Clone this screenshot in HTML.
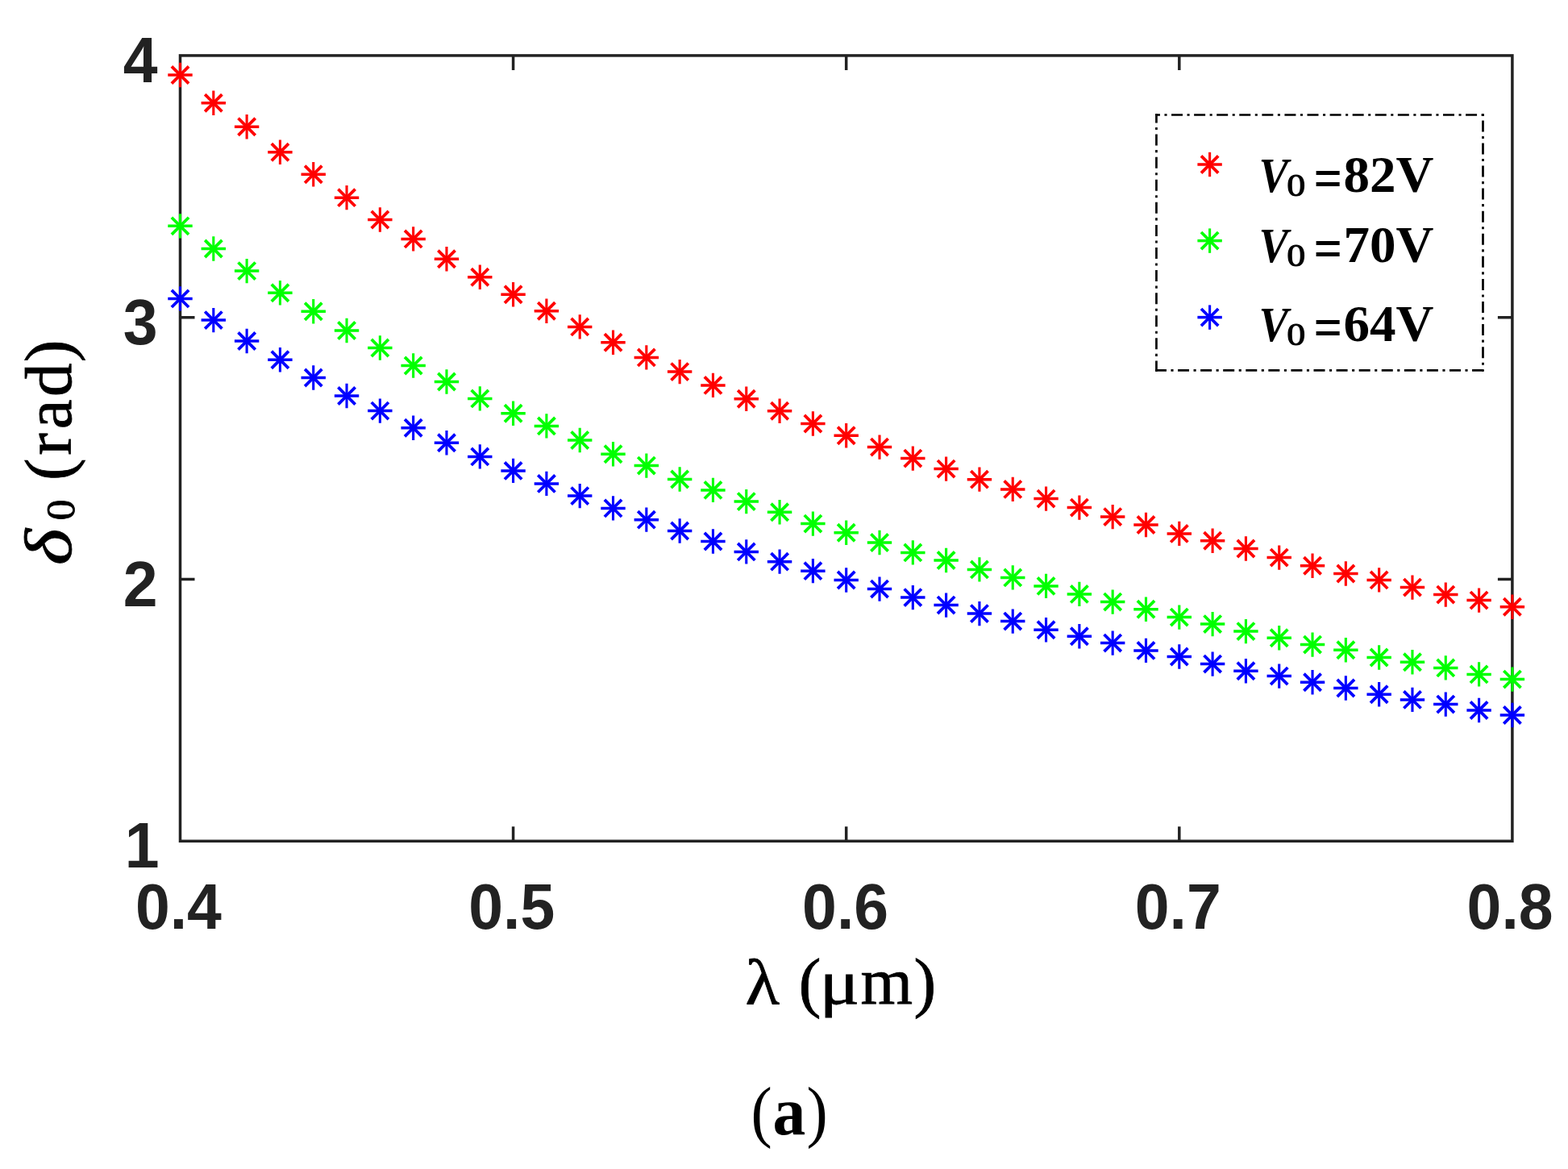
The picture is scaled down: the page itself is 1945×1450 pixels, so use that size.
<!DOCTYPE html>
<html><head><meta charset="utf-8"><title>plot</title>
<style>html,body{margin:0;padding:0;background:#fff;}svg{display:block;}</style></head>
<body><svg width="1945" height="1450" viewBox="0 0 1945 1450">
<rect width="1945" height="1450" fill="#fff"/>
<rect x="223.5" y="68.9" width="1652.40" height="974.40" fill="none" stroke="#222222" stroke-width="3.5"/>
<path d="M636.60 1043.30V1025.30M636.60 68.90V86.90M1049.70 1043.30V1025.30M1049.70 68.90V86.90M1462.80 1043.30V1025.30M1462.80 68.90V86.90M223.50 718.50H241.50M1875.90 718.50H1857.90M223.50 393.70H241.50M1875.90 393.70H1857.90" stroke="#222222" stroke-width="3.5" fill="none"/>
<g fill="none" stroke-linecap="butt"><path d="M212.90 82.45L234.10 103.65M212.90 103.65L234.10 82.45M254.21 117.10L275.41 138.30M254.21 138.30L275.41 117.10M295.52 146.65L316.72 167.85M295.52 167.85L316.72 146.65M336.83 178.20L358.03 199.40M336.83 199.40L358.03 178.20M378.14 205.65L399.34 226.85M378.14 226.85L399.34 205.65M419.45 234.55L440.65 255.75M419.45 255.75L440.65 234.55M460.76 261.90L481.96 283.10M460.76 283.10L481.96 261.90M502.07 285.80L523.27 307.00M502.07 307.00L523.27 285.80M543.38 310.70L564.58 331.90M543.38 331.90L564.58 310.70M584.69 333.20L605.89 354.40M584.69 354.40L605.89 333.20M626.00 354.60L647.20 375.80M626.00 375.80L647.20 354.60M667.31 375.20L688.51 396.40M667.31 396.40L688.51 375.20M708.62 394.80L729.82 416.00M708.62 416.00L729.82 394.80M749.93 414.20L771.13 435.40M749.93 435.40L771.13 414.20M791.24 432.80L812.44 454.00M791.24 454.00L812.44 432.80M832.55 450.50L853.75 471.70M832.55 471.70L853.75 450.50M873.86 467.30L895.06 488.50M873.86 488.50L895.06 467.30M915.17 484.20L936.37 505.40M915.17 505.40L936.37 484.20M956.48 499.10L977.68 520.30M956.48 520.30L977.68 499.10M997.79 514.90L1018.99 536.10M997.79 536.10L1018.99 514.90M1039.10 529.60L1060.30 550.80M1039.10 550.80L1060.30 529.60M1080.41 544.00L1101.61 565.20M1080.41 565.20L1101.61 544.00M1121.72 558.00L1142.92 579.20M1121.72 579.20L1142.92 558.00M1163.03 571.00L1184.23 592.20M1163.03 592.20L1184.23 571.00M1204.34 584.05L1225.54 605.25M1204.34 605.25L1225.54 584.05M1245.65 596.30L1266.85 617.50M1245.65 617.50L1266.85 596.30M1286.96 608.00L1308.16 629.20M1286.96 629.20L1308.16 608.00M1328.27 619.00L1349.47 640.20M1328.27 640.20L1349.47 619.00M1369.58 630.50L1390.78 651.70M1369.58 651.70L1390.78 630.50M1410.89 640.40L1432.09 661.60M1410.89 661.60L1432.09 640.40M1452.20 651.30L1473.40 672.50M1452.20 672.50L1473.40 651.30M1493.51 660.20L1514.71 681.40M1493.51 681.40L1514.71 660.20M1534.82 669.90L1556.02 691.10M1534.82 691.10L1556.02 669.90M1576.13 681.00L1597.33 702.20M1576.13 702.20L1597.33 681.00M1617.44 691.10L1638.64 712.30M1617.44 712.30L1638.64 691.10M1658.75 700.90L1679.95 722.10M1658.75 722.10L1679.95 700.90M1700.06 708.80L1721.26 730.00M1700.06 730.00L1721.26 708.80M1741.37 718.00L1762.57 739.20M1741.37 739.20L1762.57 718.00M1782.68 727.00L1803.88 748.20M1782.68 748.20L1803.88 727.00M1823.99 734.00L1845.19 755.20M1823.99 755.20L1845.19 734.00M1865.30 742.10L1886.50 763.30M1865.30 763.30L1886.50 742.10" stroke="#ff0000" stroke-width="3.8"/><path d="M208.30 93.05H238.70M249.61 127.70H280.01M290.92 157.25H321.32M332.23 188.80H362.63M373.54 216.25H403.94M414.85 245.15H445.25M456.16 272.50H486.56M497.47 296.40H527.87M538.78 321.30H569.18M580.09 343.80H610.49M621.40 365.20H651.80M662.71 385.80H693.11M704.02 405.40H734.42M745.33 424.80H775.73M786.64 443.40H817.04M827.95 461.10H858.35M869.26 477.90H899.66M910.57 494.80H940.97M951.88 509.70H982.28M993.19 525.50H1023.59M1034.50 540.20H1064.90M1075.81 554.60H1106.21M1117.12 568.60H1147.52M1158.43 581.60H1188.83M1199.74 594.65H1230.14M1241.05 606.90H1271.45M1282.36 618.60H1312.76M1323.67 629.60H1354.07M1364.98 641.10H1395.38M1406.29 651.00H1436.69M1447.60 661.90H1478.00M1488.91 670.80H1519.31M1530.22 680.50H1560.62M1571.53 691.60H1601.93M1612.84 701.70H1643.24M1654.15 711.50H1684.55M1695.46 719.40H1725.86M1736.77 728.60H1767.17M1778.08 737.60H1808.48M1819.39 744.60H1849.79M1860.70 752.70H1891.10" stroke="#ff0000" stroke-width="3.5"/><path d="M223.50 77.85V108.25M264.81 112.50V142.90M306.12 142.05V172.45M347.43 173.60V204.00M388.74 201.05V231.45M430.05 229.95V260.35M471.36 257.30V287.70M512.67 281.20V311.60M553.98 306.10V336.50M595.29 328.60V359.00M636.60 350.00V380.40M677.91 370.60V401.00M719.22 390.20V420.60M760.53 409.60V440.00M801.84 428.20V458.60M843.15 445.90V476.30M884.46 462.70V493.10M925.77 479.60V510.00M967.08 494.50V524.90M1008.39 510.30V540.70M1049.70 525.00V555.40M1091.01 539.40V569.80M1132.32 553.40V583.80M1173.63 566.40V596.80M1214.94 579.45V609.85M1256.25 591.70V622.10M1297.56 603.40V633.80M1338.87 614.40V644.80M1380.18 625.90V656.30M1421.49 635.80V666.20M1462.80 646.70V677.10M1504.11 655.60V686.00M1545.42 665.30V695.70M1586.73 676.40V706.80M1628.04 686.50V716.90M1669.35 696.30V726.70M1710.66 704.20V734.60M1751.97 713.40V743.80M1793.28 722.40V752.80M1834.59 729.40V759.80M1875.90 737.50V767.90" stroke="#ff0000" stroke-width="3.1"/><path d="M212.90 269.75L234.10 290.95M212.90 290.95L234.10 269.75M254.21 297.90L275.41 319.10M254.21 319.10L275.41 297.90M295.52 325.50L316.72 346.70M295.52 346.70L316.72 325.50M336.83 352.70L358.03 373.90M336.83 373.90L358.03 352.70M378.14 375.60L399.34 396.80M378.14 396.80L399.34 375.60M419.45 399.40L440.65 420.60M419.45 420.60L440.65 399.40M460.76 420.85L481.96 442.05M460.76 442.05L481.96 420.85M502.07 442.85L523.27 464.05M502.07 464.05L523.27 442.85M543.38 462.95L564.58 484.15M543.38 484.15L564.58 462.95M584.69 483.80L605.89 505.00M584.69 505.00L605.89 483.80M626.00 502.20L647.20 523.40M626.00 523.40L647.20 502.20M667.31 517.80L688.51 539.00M667.31 539.00L688.51 517.80M708.62 535.40L729.82 556.60M708.62 556.60L729.82 535.40M749.93 552.60L771.13 573.80M749.93 573.80L771.13 552.60M791.24 567.00L812.44 588.20M791.24 588.20L812.44 567.00M832.55 583.90L853.75 605.10M832.55 605.10L853.75 583.90M873.86 597.30L895.06 618.50M873.86 618.50L895.06 597.30M915.17 611.50L936.37 632.70M915.17 632.70L936.37 611.50M956.48 624.70L977.68 645.90M956.48 645.90L977.68 624.70M997.79 639.00L1018.99 660.20M997.79 660.20L1018.99 639.00M1039.10 650.10L1060.30 671.30M1039.10 671.30L1060.30 650.10M1080.41 662.40L1101.61 683.60M1080.41 683.60L1101.61 662.40M1121.72 674.80L1142.92 696.00M1121.72 696.00L1142.92 674.80M1163.03 684.40L1184.23 705.60M1163.03 705.60L1184.23 684.40M1204.34 695.80L1225.54 717.00M1204.34 717.00L1225.54 695.80M1245.65 705.80L1266.85 727.00M1245.65 727.00L1266.85 705.80M1286.96 716.30L1308.16 737.50M1286.96 737.50L1308.16 716.30M1328.27 726.30L1349.47 747.50M1328.27 747.50L1349.47 726.30M1369.58 736.00L1390.78 757.20M1369.58 757.20L1390.78 736.00M1410.89 745.10L1432.09 766.30M1410.89 766.30L1432.09 745.10M1452.20 755.00L1473.40 776.20M1452.20 776.20L1473.40 755.00M1493.51 763.50L1514.71 784.70M1493.51 784.70L1514.71 763.50M1534.82 772.50L1556.02 793.70M1534.82 793.70L1556.02 772.50M1576.13 780.70L1597.33 801.90M1576.13 801.90L1597.33 780.70M1617.44 789.00L1638.64 810.20M1617.44 810.20L1638.64 789.00M1658.75 795.60L1679.95 816.80M1658.75 816.80L1679.95 795.60M1700.06 804.90L1721.26 826.10M1700.06 826.10L1721.26 804.90M1741.37 810.60L1762.57 831.80M1741.37 831.80L1762.57 810.60M1782.68 817.80L1803.88 839.00M1782.68 839.00L1803.88 817.80M1823.99 825.80L1845.19 847.00M1823.99 847.00L1845.19 825.80M1865.30 832.00L1886.50 853.20M1865.30 853.20L1886.50 832.00" stroke="#00ff00" stroke-width="3.8"/><path d="M208.30 280.35H238.70M249.61 308.50H280.01M290.92 336.10H321.32M332.23 363.30H362.63M373.54 386.20H403.94M414.85 410.00H445.25M456.16 431.45H486.56M497.47 453.45H527.87M538.78 473.55H569.18M580.09 494.40H610.49M621.40 512.80H651.80M662.71 528.40H693.11M704.02 546.00H734.42M745.33 563.20H775.73M786.64 577.60H817.04M827.95 594.50H858.35M869.26 607.90H899.66M910.57 622.10H940.97M951.88 635.30H982.28M993.19 649.60H1023.59M1034.50 660.70H1064.90M1075.81 673.00H1106.21M1117.12 685.40H1147.52M1158.43 695.00H1188.83M1199.74 706.40H1230.14M1241.05 716.40H1271.45M1282.36 726.90H1312.76M1323.67 736.90H1354.07M1364.98 746.60H1395.38M1406.29 755.70H1436.69M1447.60 765.60H1478.00M1488.91 774.10H1519.31M1530.22 783.10H1560.62M1571.53 791.30H1601.93M1612.84 799.60H1643.24M1654.15 806.20H1684.55M1695.46 815.50H1725.86M1736.77 821.20H1767.17M1778.08 828.40H1808.48M1819.39 836.40H1849.79M1860.70 842.60H1891.10" stroke="#00ff00" stroke-width="3.5"/><path d="M223.50 265.15V295.55M264.81 293.30V323.70M306.12 320.90V351.30M347.43 348.10V378.50M388.74 371.00V401.40M430.05 394.80V425.20M471.36 416.25V446.65M512.67 438.25V468.65M553.98 458.35V488.75M595.29 479.20V509.60M636.60 497.60V528.00M677.91 513.20V543.60M719.22 530.80V561.20M760.53 548.00V578.40M801.84 562.40V592.80M843.15 579.30V609.70M884.46 592.70V623.10M925.77 606.90V637.30M967.08 620.10V650.50M1008.39 634.40V664.80M1049.70 645.50V675.90M1091.01 657.80V688.20M1132.32 670.20V700.60M1173.63 679.80V710.20M1214.94 691.20V721.60M1256.25 701.20V731.60M1297.56 711.70V742.10M1338.87 721.70V752.10M1380.18 731.40V761.80M1421.49 740.50V770.90M1462.80 750.40V780.80M1504.11 758.90V789.30M1545.42 767.90V798.30M1586.73 776.10V806.50M1628.04 784.40V814.80M1669.35 791.00V821.40M1710.66 800.30V830.70M1751.97 806.00V836.40M1793.28 813.20V843.60M1834.59 821.20V851.60M1875.90 827.40V857.80" stroke="#00ff00" stroke-width="3.1"/><path d="M212.90 359.80L234.10 381.00M212.90 381.00L234.10 359.80M254.21 386.50L275.41 407.70M254.21 407.70L275.41 386.50M295.52 412.40L316.72 433.60M295.52 433.60L316.72 412.40M336.83 435.70L358.03 456.90M336.83 456.90L358.03 435.70M378.14 457.90L399.34 479.10M378.14 479.10L399.34 457.90M419.45 480.40L440.65 501.60M419.45 501.60L440.65 480.40M460.76 499.00L481.96 520.20M460.76 520.20L481.96 499.00M502.07 520.10L523.27 541.30M502.07 541.30L523.27 520.10M543.38 538.60L564.58 559.80M543.38 559.80L564.58 538.60M584.69 555.80L605.89 577.00M584.69 577.00L605.89 555.80M626.00 573.30L647.20 594.50M626.00 594.50L647.20 573.30M667.31 589.30L688.51 610.50M667.31 610.50L688.51 589.30M708.62 604.50L729.82 625.70M708.62 625.70L729.82 604.50M749.93 619.80L771.13 641.00M749.93 641.00L771.13 619.80M791.24 634.05L812.44 655.25M791.24 655.25L812.44 634.05M832.55 647.90L853.75 669.10M832.55 669.10L853.75 647.90M873.86 660.90L895.06 682.10M873.86 682.10L895.06 660.90M915.17 673.80L936.37 695.00M915.17 695.00L936.37 673.80M956.48 686.05L977.68 707.25M956.48 707.25L977.68 686.05M997.79 697.55L1018.99 718.75M997.79 718.75L1018.99 697.55M1039.10 708.90L1060.30 730.10M1039.10 730.10L1060.30 708.90M1080.41 720.00L1101.61 741.20M1080.41 741.20L1101.61 720.00M1121.72 730.50L1142.92 751.70M1121.72 751.70L1142.92 730.50M1163.03 740.00L1184.23 761.20M1163.03 761.20L1184.23 740.00M1204.34 750.50L1225.54 771.70M1204.34 771.70L1225.54 750.50M1245.65 760.00L1266.85 781.20M1245.65 781.20L1266.85 760.00M1286.96 770.60L1308.16 791.80M1286.96 791.80L1308.16 770.60M1328.27 778.60L1349.47 799.80M1328.27 799.80L1349.47 778.60M1369.58 787.00L1390.78 808.20M1369.58 808.20L1390.78 787.00M1410.89 796.30L1432.09 817.50M1410.89 817.50L1432.09 796.30M1452.20 803.90L1473.40 825.10M1452.20 825.10L1473.40 803.90M1493.51 813.00L1514.71 834.20M1493.51 834.20L1514.71 813.00M1534.82 821.60L1556.02 842.80M1534.82 842.80L1556.02 821.60M1576.13 828.00L1597.33 849.20M1576.13 849.20L1597.33 828.00M1617.44 835.70L1638.64 856.90M1617.44 856.90L1638.64 835.70M1658.75 842.90L1679.95 864.10M1658.75 864.10L1679.95 842.90M1700.06 850.70L1721.26 871.90M1700.06 871.90L1721.26 850.70M1741.37 857.30L1762.57 878.50M1741.37 878.50L1762.57 857.30M1782.68 863.00L1803.88 884.20M1782.68 884.20L1803.88 863.00M1823.99 870.40L1845.19 891.60M1823.99 891.60L1845.19 870.40M1865.30 876.40L1886.50 897.60M1865.30 897.60L1886.50 876.40" stroke="#0000ff" stroke-width="3.8"/><path d="M208.30 370.40H238.70M249.61 397.10H280.01M290.92 423.00H321.32M332.23 446.30H362.63M373.54 468.50H403.94M414.85 491.00H445.25M456.16 509.60H486.56M497.47 530.70H527.87M538.78 549.20H569.18M580.09 566.40H610.49M621.40 583.90H651.80M662.71 599.90H693.11M704.02 615.10H734.42M745.33 630.40H775.73M786.64 644.65H817.04M827.95 658.50H858.35M869.26 671.50H899.66M910.57 684.40H940.97M951.88 696.65H982.28M993.19 708.15H1023.59M1034.50 719.50H1064.90M1075.81 730.60H1106.21M1117.12 741.10H1147.52M1158.43 750.60H1188.83M1199.74 761.10H1230.14M1241.05 770.60H1271.45M1282.36 781.20H1312.76M1323.67 789.20H1354.07M1364.98 797.60H1395.38M1406.29 806.90H1436.69M1447.60 814.50H1478.00M1488.91 823.60H1519.31M1530.22 832.20H1560.62M1571.53 838.60H1601.93M1612.84 846.30H1643.24M1654.15 853.50H1684.55M1695.46 861.30H1725.86M1736.77 867.90H1767.17M1778.08 873.60H1808.48M1819.39 881.00H1849.79M1860.70 887.00H1891.10" stroke="#0000ff" stroke-width="3.5"/><path d="M223.50 355.20V385.60M264.81 381.90V412.30M306.12 407.80V438.20M347.43 431.10V461.50M388.74 453.30V483.70M430.05 475.80V506.20M471.36 494.40V524.80M512.67 515.50V545.90M553.98 534.00V564.40M595.29 551.20V581.60M636.60 568.70V599.10M677.91 584.70V615.10M719.22 599.90V630.30M760.53 615.20V645.60M801.84 629.45V659.85M843.15 643.30V673.70M884.46 656.30V686.70M925.77 669.20V699.60M967.08 681.45V711.85M1008.39 692.95V723.35M1049.70 704.30V734.70M1091.01 715.40V745.80M1132.32 725.90V756.30M1173.63 735.40V765.80M1214.94 745.90V776.30M1256.25 755.40V785.80M1297.56 766.00V796.40M1338.87 774.00V804.40M1380.18 782.40V812.80M1421.49 791.70V822.10M1462.80 799.30V829.70M1504.11 808.40V838.80M1545.42 817.00V847.40M1586.73 823.40V853.80M1628.04 831.10V861.50M1669.35 838.30V868.70M1710.66 846.10V876.50M1751.97 852.70V883.10M1793.28 858.40V888.80M1834.59 865.80V896.20M1875.90 871.80V902.20" stroke="#0000ff" stroke-width="3.1"/></g>
<g font-family="Liberation Sans, Arial, sans-serif" font-weight="bold" font-size="80" fill="#222222"><text transform="translate(197.6 1076.30) scale(0.962 1)" text-anchor="end">1</text><text transform="translate(195.6 751.50) scale(0.962 1)" text-anchor="end">2</text><text transform="translate(195.6 426.70) scale(0.962 1)" text-anchor="end">3</text><text transform="translate(195.6 101.90) scale(0.962 1)" text-anchor="end">4</text><text transform="translate(221.40 1152.1) scale(0.962 1)" text-anchor="middle">0.4</text><text transform="translate(634.70 1152.1) scale(0.962 1)" text-anchor="middle">0.5</text><text transform="translate(1048.60 1152.1) scale(0.962 1)" text-anchor="middle">0.6</text><text transform="translate(1461.30 1152.1) scale(0.962 1)" text-anchor="middle">0.7</text><text transform="translate(1873.10 1152.1) scale(0.962 1)" text-anchor="middle">0.8</text></g>
<g fill="none" stroke="#000" stroke-width="2.7"><path d="M1433.1000000000001 142.5H1840.85" stroke-dasharray="14 5.5 3.1 5.48" stroke-dashoffset="8.15"/><path d="M1434.45 141.15V460.75" stroke-dasharray="14 5.5 3.1 5.48" stroke-dashoffset="2.65"/><path d="M1839.5 141.15V460.75" stroke-dasharray="14 5.5 3.1 5.48" stroke-dashoffset="19.849999999999998"/><path d="M1433.1000000000001 459.4H1840.85" stroke-dasharray="14 5.5 3.1 5.48" stroke-dashoffset="0.1499999999999999"/></g>
<g fill="none" stroke-linecap="butt"><path d="M1490.00 193.40L1511.20 214.60M1490.00 214.60L1511.20 193.40" stroke="#ff0000" stroke-width="3.8"/><path d="M1485.40 204.00H1515.80" stroke="#ff0000" stroke-width="3.5"/><path d="M1500.60 188.80V219.20" stroke="#ff0000" stroke-width="3.1"/><path d="M1490.00 288.00L1511.20 309.20M1490.00 309.20L1511.20 288.00" stroke="#00ff00" stroke-width="3.8"/><path d="M1485.40 298.60H1515.80" stroke="#00ff00" stroke-width="3.5"/><path d="M1500.60 283.40V313.80" stroke="#00ff00" stroke-width="3.1"/><path d="M1490.00 383.00L1511.20 404.20M1490.00 404.20L1511.20 383.00" stroke="#0000ff" stroke-width="3.8"/><path d="M1485.40 393.60H1515.80" stroke="#0000ff" stroke-width="3.5"/><path d="M1500.60 378.40V408.80" stroke="#0000ff" stroke-width="3.1"/></g>
<g fill="#000" font-family="Liberation Serif, serif"><text transform="translate(1561.4 238.00) scale(0.894 1)" font-style="italic" font-weight="bold" font-size="61.3">V</text><text transform="translate(1596.3 242.90) scale(1.18 1)" font-size="39" stroke="#000" stroke-width="1">0</text><text transform="translate(1629.6 244.80) scale(0.88 1)" font-weight="bold" font-size="71">=</text><text transform="translate(1666.6 238.00) scale(1.042 1)" font-weight="bold" font-size="62.4">82V</text><text transform="translate(1561.4 325.00) scale(0.894 1)" font-style="italic" font-weight="bold" font-size="61.3">V</text><text transform="translate(1596.3 329.90) scale(1.18 1)" font-size="39" stroke="#000" stroke-width="1">0</text><text transform="translate(1629.6 331.80) scale(0.88 1)" font-weight="bold" font-size="71">=</text><text transform="translate(1666.6 325.00) scale(1.042 1)" font-weight="bold" font-size="62.4">70V</text><text transform="translate(1561.4 423.00) scale(0.894 1)" font-style="italic" font-weight="bold" font-size="61.3">V</text><text transform="translate(1596.3 427.90) scale(1.18 1)" font-size="39" stroke="#000" stroke-width="1">0</text><text transform="translate(1629.6 429.80) scale(0.88 1)" font-weight="bold" font-size="71">=</text><text transform="translate(1666.6 423.00) scale(1.042 1)" font-weight="bold" font-size="62.4">64V</text></g>
<g font-family="Liberation Serif, serif" font-size="83" fill="#000" stroke="#000" stroke-width="0.8"><text transform="translate(924.4 1246.2) scale(1.056 0.98)">λ</text><text y="1246.2"><tspan x="990.8">(</tspan></text><text y="1245.2"><tspan x="1067.5">m</tspan></text><text y="1246.0"><tspan x="1133.45">)</tspan></text><text transform="translate(1016.6 1245.2) scale(1.12 0.945)">μ</text></g>
<g transform="translate(87.6 698.5) rotate(-90)" font-family="Liberation Serif, serif" fill="#000" stroke="#000" stroke-width="0.8"><text transform="translate(-2.5 0) scale(1.18 1)" font-size="82" font-style="italic">δ</text><text transform="translate(53.1 4.8) scale(1.01 1)" font-size="51.7">0</text><text y="0" font-size="83"><tspan x="102.45">(</tspan><tspan x="133.8">r</tspan><tspan x="166.35">a</tspan><tspan x="206.45">d</tspan><tspan x="249.25">)</tspan></text></g>
<g font-family="Liberation Serif, serif" fill="#000"><text transform="translate(931.4 1407.4) scale(0.92 1)" font-size="85.6">(</text><text transform="translate(958.5 1406.85) scale(0.96 1)" font-size="85" font-weight="bold">a</text><text transform="translate(1000.45 1407.4) scale(0.92 1)" font-size="85.6">)</text></g>
</svg></body></html>
